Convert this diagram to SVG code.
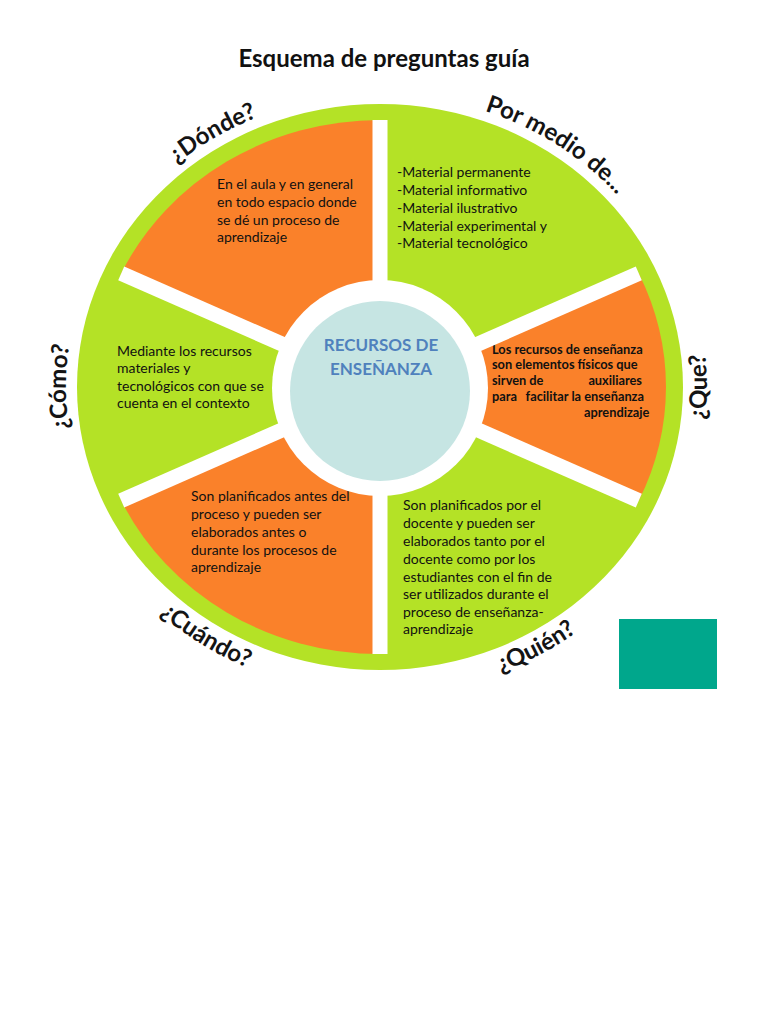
<svg xmlns="http://www.w3.org/2000/svg" width="768" height="1024" viewBox="0 0 768 1024">
<style>
.body{font-family:Lato,"Liberation Sans",sans-serif;font-size:14px;fill:#111}
.small{font-family:Lato,"Liberation Sans",sans-serif;font-size:12.8px;font-weight:bold;fill:#111}
.lab{font-family:Lato,"Liberation Sans",sans-serif;font-size:24px;font-weight:bold;fill:#141414}
.org{fill:#fa812a}
.div{stroke:#fff;stroke-width:15;fill:none}
</style>
<defs>
<path id="topArc" d="M 380 680 A 314 293 0 0 1 380 94 A 314 293 0 0 1 380 680"/>
<path id="botArc" d="M 380 80 A 327 307 0 0 0 380 694 A 327 307 0 0 0 380 80"/>
</defs>
<rect width="768" height="1024" fill="#fff"/>
<text id="title" x="384" y="67" text-anchor="middle" font-family="Lato,'Liberation Sans',sans-serif" font-size="24" font-weight="bold" fill="#111">Esquema de preguntas guía</text>
<g id="wheel">
<ellipse cx="380" cy="387" rx="303" ry="283" fill="#b4e226"/>
</g>
<g id="sector-donde">
<path class="org" d="M 380 387 L 121.2 273.4 A 286 267 0 0 1 380 120 Z"/>
<text class="body"><tspan x="217" y="189">En el aula y en general</tspan><tspan x="217" y="207">en todo espacio donde</tspan><tspan x="217" y="225">se dé un proceso de</tspan><tspan x="217" y="242">aprendizaje</tspan></text>
</g>
<g id="sector-que">
<path class="org" d="M 380 387 L 638.8 273.4 A 286 267 0 0 1 638.8 500.6 Z"/>
<text class="small"><tspan x="492" y="354">Los recursos de enseñanza</tspan><tspan x="492" y="369">son elementos físicos que</tspan><tspan x="492" y="385">sirven de</tspan><tspan x="642" y="385" text-anchor="end">auxiliares</tspan><tspan x="492" y="401">para</tspan><tspan x="644" y="401" text-anchor="end">facilitar la enseñanza</tspan><tspan x="584" y="417">aprendizaje</tspan></text>
</g>
<g id="sector-cuando">
<path class="org" d="M 380 387 L 380 654 A 286 267 0 0 1 121.2 500.6 Z"/>
<text class="body"><tspan x="191" y="501">Son planificados antes del</tspan><tspan x="191" y="519">proceso y pueden ser</tspan><tspan x="191" y="537">elaborados antes o</tspan><tspan x="191" y="555">durante los procesos de</tspan><tspan x="191" y="572">aprendizaje</tspan></text>
</g>
<g id="sector-por-medio">
<text class="body"><tspan x="397" y="177">-Material permanente</tspan><tspan x="397" y="195">-Material informativo</tspan><tspan x="397" y="213">-Material ilustrativo</tspan><tspan x="397" y="231">-Material experimental y</tspan><tspan x="397" y="248">-Material tecnológico</tspan></text>
</g>
<g id="sector-como">
<text class="body"><tspan x="117" y="356">Mediante los recursos</tspan><tspan x="117" y="373">materiales y</tspan><tspan x="117" y="391">tecnológicos con que se</tspan><tspan x="117" y="408">cuenta en el contexto</tspan></text>
</g>
<g id="sector-quien">
<text class="body"><tspan x="403" y="510">Son planificados por el</tspan><tspan x="403" y="528">docente y pueden ser</tspan><tspan x="403" y="546">elaborados tanto por el</tspan><tspan x="403" y="564">docente como por los</tspan><tspan x="403" y="582">estudiantes con el fin de</tspan><tspan x="403" y="599">ser utilizados durante el</tspan><tspan x="403" y="617">proceso de enseñanza-</tspan><tspan x="403" y="634">aprendizaje</tspan></text>
</g>
<g id="connectors">
<line class="div" x1="380" y1="387" x2="380" y2="120"/>
<line class="div" x1="380" y1="387" x2="380" y2="654"/>
<line class="div" x1="380" y1="387" x2="121.2" y2="273.4"/>
<line class="div" x1="380" y1="387" x2="638.8" y2="273.4"/>
<line class="div" x1="380" y1="387" x2="121.2" y2="500.6"/>
<line class="div" x1="380" y1="387" x2="638.8" y2="500.6"/>
</g>
<g id="center">
<circle cx="380" cy="388" r="108" fill="#fff"/>
<circle cx="380" cy="391" r="90" fill="#c6e5e3"/>
<text x="381" y="351" text-anchor="middle" font-family="Lato,'Liberation Sans',sans-serif" font-size="17" font-weight="bold" fill="#4f81bd">RECURSOS DE</text>
<text x="381" y="375" text-anchor="middle" font-family="Lato,'Liberation Sans',sans-serif" font-size="17" font-weight="bold" fill="#4f81bd">ENSEÑANZA</text>
</g>
<g id="labels">
<text class="lab"><textPath href="#topArc" startOffset="477" text-anchor="middle">¿Cómo?</textPath></text>
<text class="lab"><textPath href="#topArc" startOffset="781" text-anchor="middle">¿Dónde?</textPath></text>
<text class="lab"><textPath href="#topArc" startOffset="1139" text-anchor="middle">Por medio de...</textPath></text>
<text class="lab"><textPath href="#botArc" startOffset="808" text-anchor="middle">¿Cuándo?</textPath></text>
<text class="lab"><textPath href="#botArc" startOffset="1162" text-anchor="middle">¿Quién?</textPath></text>
<text class="lab"><textPath href="#botArc" startOffset="1494" text-anchor="middle">¿Que?</textPath></text>
</g>
<rect id="teal-box" x="619" y="619" width="98" height="70" fill="#00a78c"/>
</svg>
